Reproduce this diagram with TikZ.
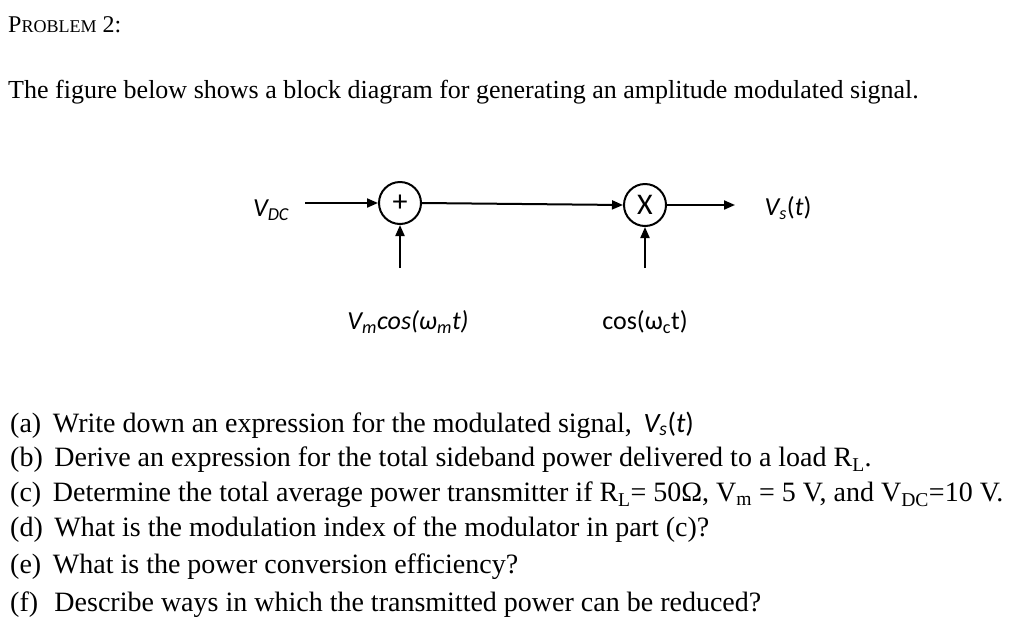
\documentclass[tikz,border=0pt]{standalone}
\usepackage{fontspec}
\setmainfont{Liberation Serif}
\newfontfamily\carl{Carlito}
\usetikzlibrary{arrows.meta}
\begin{document}
\begin{tikzpicture}[x=1pt,y=-1pt,
  txt/.style={anchor=west,inner sep=0pt,font=\fontsize{28}{30}\selectfont},
  dg/.style={inner sep=0pt,font=\carl\fontsize{26}{30}\selectfont},
  op/.style={circle,draw,line width=2pt,minimum size=42pt,inner sep=0pt,font=\carl\fontsize{30}{32}\selectfont},
  ar/.style={line width=2pt,-{Triangle[length=11pt,width=9pt]}}]
\useasboundingbox (0,0) rectangle (1016,627);
\node[txt,font=\fontsize{24}{28}\selectfont] (t0) at (8,25) {P{\fontsize{18}{20}\selectfont ROBLEM} 2:};
\node[txt,font=\fontsize{26}{30}\selectfont] (t1) at (8,92) {The figure below shows a block diagram for generating an amplitude modulated signal.};
\node[dg] (vdc) at (271,210) {\itshape V\textsubscript{DC}};
\node[op] (s) at (400,203) {+};
\node[op] (m) at (645,205) {X};
\node[dg] (vs) at (788,208) {\itshape V\textsubscript{s}\upshape(\itshape t\upshape)};
\node[dg] (vm) at (408,322) {\itshape V\textsubscript{m}cos(ω\textsubscript{m}t)};
\node[dg] (vc) at (645,322) {cos(ω\textsubscript{c}t)};
\coordinate (a1) at (305,203);
\coordinate (a2) at (735,205);
\coordinate (u1) at (400,268);
\coordinate (u2) at (645,268);
\draw[ar] (a1) -- (s.west);
\draw[ar] (s.east) -- (m.west);
\draw[ar] (m.east) -- (a2);
\draw[ar] (u1) -- (s.south);
\draw[ar] (u2) -- (m.south);
\node[txt] (qa) at (10,425) {(a)\, Write down an expression for the modulated signal,\, {\carl\itshape V\textsubscript{s}\upshape(\itshape t\upshape)}};
\node[txt] (qb) at (10,460) {(b)\, Derive an expression for the total sideband power delivered to a load R\textsubscript{L}.};
\node[txt] (qc) at (10,495) {(c)\, Determine the total average power transmitter if R\textsubscript{L}= 50Ω, V\textsubscript{m} = 5 V, and V\textsubscript{DC}=10 V.};
\node[txt] (qd) at (10,530) {(d)\, What is the modulation index of the modulator in part (c)?};
\node[txt] (qe) at (10,567) {(e)\, What is the power conversion efficiency?};
\node[txt] (qf) at (10,605) {(f)\,\, Describe ways in which the transmitted power can be reduced?};
\end{tikzpicture}
\end{document}
